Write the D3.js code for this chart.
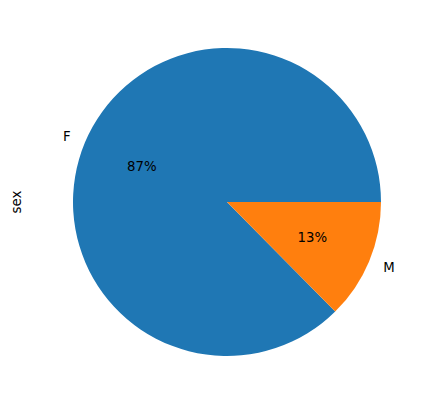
<!DOCTYPE html>
<html>
<head>
<meta charset="utf-8">
<script src="https://cdn.jsdelivr.net/npm/d3@7"></script>
<style>
  body { margin: 0; background: #fff; }
  svg text { font-family: "DejaVu Sans", sans-serif; font-size: 13.3px; fill: #000; }
</style>
</head>
<body>
<svg id="chart" width="429" height="405"></svg>
<script>
// sex shares (percent of total)
var categories = ['F', 'M'];
var values = [87.4, 12.6];
var colors = ['#1f77b4', '#ff7f0e'];
var axisLabel = 'sex';

var svg = d3.select('#chart');
var cx = 227, cy = 202, radius = 154;

var data = categories.map(function(c, i) {
  return { name: c, value: values[i], color: colors[i] };
});
var total = d3.sum(values);

// matplotlib style: start at 3 o'clock, go counterclockwise
var pie = d3.pie()
  .sort(null)
  .value(function(d) { return d.value; })
  .startAngle(Math.PI / 2)
  .endAngle(Math.PI / 2 - 2 * Math.PI);

var arc = d3.arc().innerRadius(0).outerRadius(radius);
var g = svg.append('g').attr('transform', 'translate(' + cx + ',' + cy + ')');
var arcs = pie(data);

g.selectAll('path.slice')
  .data(arcs)
  .enter().append('path')
  .attr('class', 'slice')
  .attr('d', arc)
  .attr('fill', function(d) { return d.data.color; });

function pos(d, f) {
  var a = (d.startAngle + d.endAngle) / 2;
  return [Math.sin(a) * radius * f, -Math.cos(a) * radius * f];
}

// category labels outside
g.selectAll('text.lab')
  .data(arcs)
  .enter().append('text')
  .attr('class', 'lab')
  .attr('x', function(d) { return pos(d, 1.1)[0]; })
  .attr('y', function(d) { return pos(d, 1.1)[1]; })
  .attr('dy', '0.36em')
  .attr('text-anchor', function(d) { return pos(d, 1.1)[0] > 0 ? 'start' : 'end'; })
  .text(function(d) { return d.data.name; });

// percentages inside
g.selectAll('text.pct')
  .data(arcs)
  .enter().append('text')
  .attr('class', 'pct')
  .attr('x', function(d) { return pos(d, 0.6)[0]; })
  .attr('y', function(d) { return pos(d, 0.6)[1]; })
  .attr('dy', '0.36em')
  .attr('text-anchor', 'middle')
  .text(function(d) { return Math.round(d.data.value / total * 100) + '%'; });

svg.append('text')
  .attr('transform', 'translate(21,' + cy + ') rotate(-90)')
  .attr('text-anchor', 'middle')
  .text(axisLabel);
</script>
</body>
</html>
